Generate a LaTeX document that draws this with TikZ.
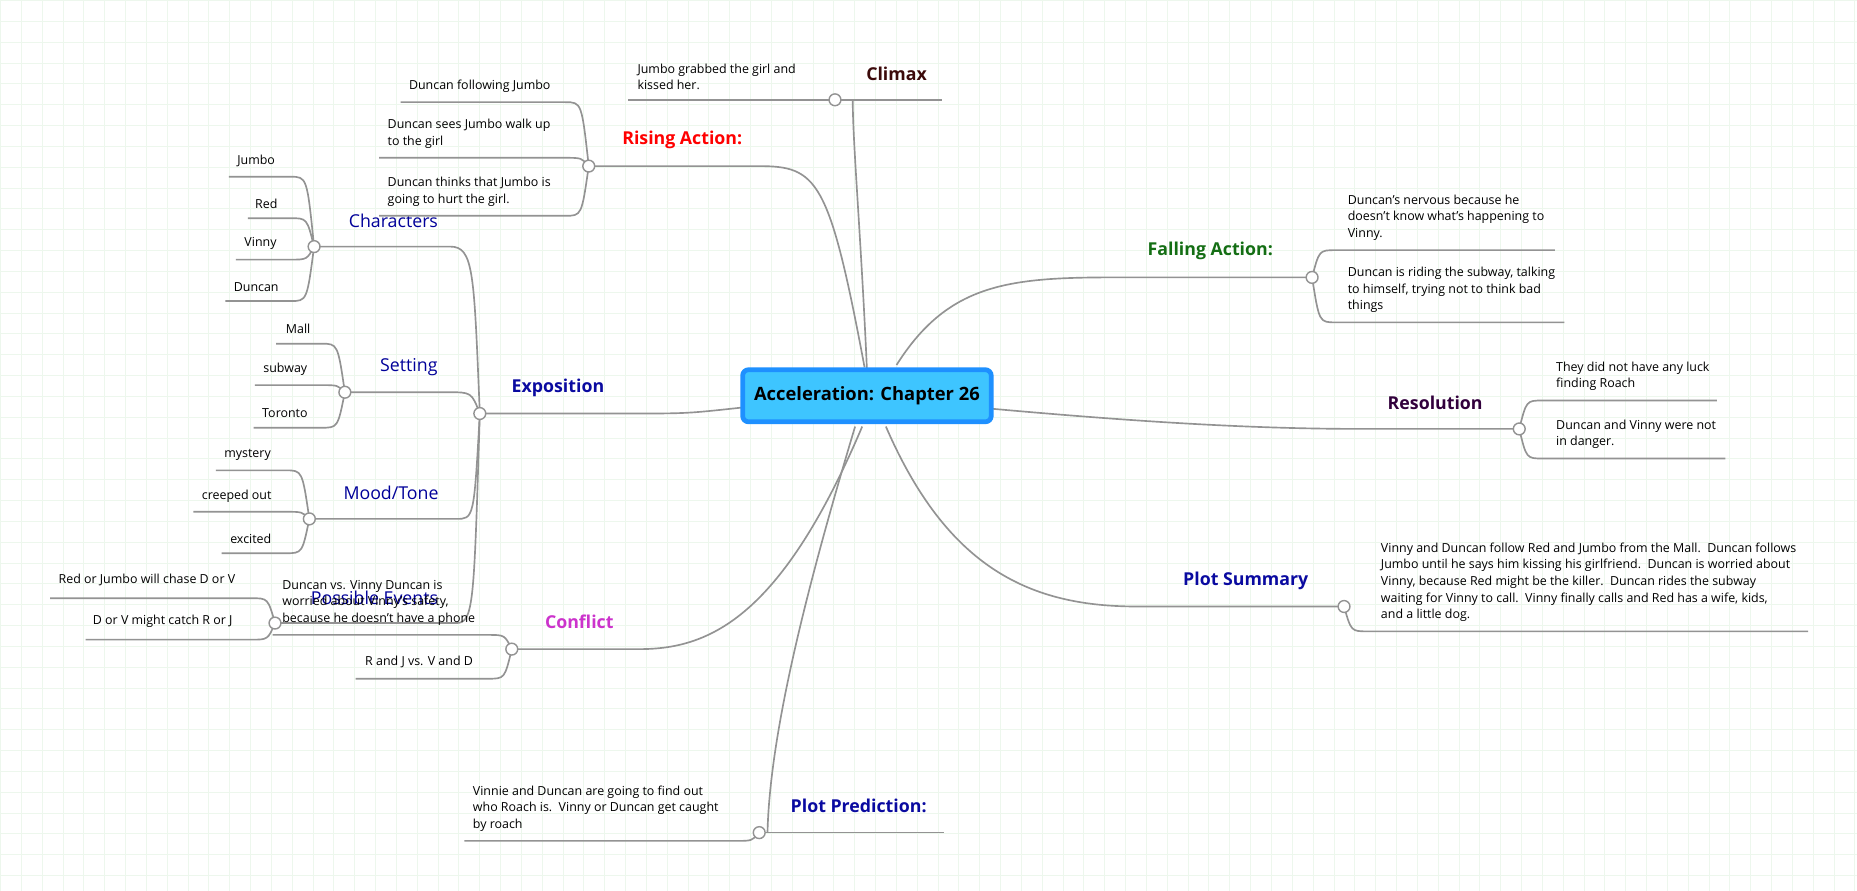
\documentclass[tikz,border=0pt]{standalone}
\usepackage{fontspec}
\setmainfont{Open Sans}
\begin{document}
\begin{tikzpicture}[x=1pt,y=-1pt,
 br/.style={draw=gray!85,line width=1.4pt},
 dot/.style={circle,draw=gray!85,fill=white,line width=1.2pt,minimum size=10pt,inner sep=0pt},
 sm/.style={font=\fontsize{10.5}{14}\selectfont,align=left,anchor=south west,inner sep=0pt},
 hd/.style={font=\fontsize{15}{18}\selectfont\bfseries},
 sh/.style={font=\fontsize{15}{18}\selectfont,text=blue!60!black}]
\fill[white] (0,0) rectangle (1568,752);
\draw[green!40!gray!10,line width=0.6pt,step=17.6pt] (0,0) grid (1568,752);
\useasboundingbox (0,0) rectangle (1568,752);
\newcommand\subL[5]{\coordinate (#5) at (#4,#3);
 \draw[br] (#1,#2) .. controls (#1-6,#3) .. (#1-20,#3) -- (#5);}
\newcommand\subR[5]{\coordinate (#5) at (#4,#3);
 \draw[br] (#1,#2) .. controls (#1+6,#3) .. (#1+20,#3) -- (#5);}
\coordinate (cl) at (705,84); \coordinate (ra) at (497,140);
\coordinate (fa) at (1108,234); \coordinate (rs) at (1283,362);
\coordinate (ps) at (1135,512); \coordinate (pp) at (641,703);
\coordinate (cf) at (432,548); \coordinate (ex) at (405,349);
\coordinate (ch) at (265,208); \coordinate (se) at (291,331);
\coordinate (mo) at (261,438); \coordinate (pe) at (232,526);
\draw[br] (732,312) .. controls (727,200) and (720,120) .. (720,84);
\draw[br] (cl) -- (795,84);
\draw[br] (730,310) .. controls (700,150) and (690,140) .. (640,140) -- (ra);
\draw[br] (757,308) .. controls (800,240) and (850,234) .. (940,234) -- (fa);
\draw[br] (838,345) .. controls (950,355) and (1050,362) .. (1150,362) -- (rs);
\draw[br] (748,360) .. controls (800,480) and (870,512) .. (960,512) -- (ps);
\draw[br] (722,360) .. controls (680,500) and (650,620) .. (648,703);
\draw[br] (pp) -- (797,703);
\draw[br] (728,360) .. controls (660,520) and (600,548) .. (540,548) -- (cf);
\draw[br] (626,344) .. controls (580,349) .. (530,349) -- (ex);
\node[draw={rgb,255:red,30;green,144;blue,255},line width=4pt,fill={rgb,255:red,62;green,197;blue,255},rounded corners=5pt,minimum width=210pt,minimum height=44pt,font=\fontsize{15.5}{18}\selectfont\bfseries] (c) at (732,334) {Acceleration: Chapter 26};
\draw[br] (ex) .. controls (400,230) and (400,208) .. (380,208) -- (ch);
\draw[br] (ex) .. controls (398,331) .. (378,331) -- (se);
\draw[br] (ex) .. controls (400,438) and (400,438) .. (385,438) -- (mo);
\draw[br] (ex) .. controls (400,510) and (400,526) .. (385,526) -- (pe);
\node[hd,text={rgb,255:red,60;green,10;blue,10}] (lcl) at (757,62) {Climax};
\node[hd,text=red] (lra) at (576,118) {Rising Action:};
\node[hd,text={rgb,255:red,20;green,110;blue,20}] (lfa) at (1022,212) {Falling Action:};
\node[hd,text={rgb,255:red,50;green,0;blue,60}] (lrs) at (1212,340) {Resolution};
\node[hd,text={rgb,255:red,10;green,10;blue,160}] (lps) at (1052,490) {Plot Summary};
\node[hd,text={rgb,255:red,10;green,10;blue,160}] (lpp) at (725,680) {Plot Prediction:};
\node[hd,text={rgb,255:red,204;green,51;blue,204}] (lcf) at (489,525) {Conflict};
\node[hd,text={rgb,255:red,10;green,10;blue,160}] (lex) at (471,327) {Exposition};
\node[sh] (lch) at (332,186) {Characters};
\node[sh] (lse) at (345,310) {Setting};
\node[sh] (lmo) at (330,416) {Mood/Tone};
\node[sh] (lpe) at (316,505) {Possible Events};
\draw[br] (cl) -- (530,84); \node[sm] (t1) at (538,76) {Jumbo grabbed the girl and\\kissed her.};
\subL{497}{140}{86}{338}{a1}\node[sm] at (345,78) {Duncan following Jumbo};
\subL{497}{140}{133}{320}{a2}\node[sm] at (327,125) {Duncan sees Jumbo walk up\\to the girl};
\subL{497}{140}{182}{320}{a3}\node[sm] at (327,174) {Duncan thinks that Jumbo is\\going to hurt the girl.};
\subR{1108}{234}{211}{1313}{f1}\node[sm] at (1138,203) {Duncan's nervous because he\\doesn't know what's happening to\\Vinny.};
\subR{1108}{234}{272}{1321}{f2}\node[sm] at (1138,264) {Duncan is riding the subway, talking\\to himself, trying not to think bad\\things};
\subR{1283}{362}{338}{1450}{r1}\node[sm] at (1314,330) {They did not have any luck\\finding Roach};
\subR{1283}{362}{387}{1457}{r2}\node[sm] at (1314,379) {Duncan and Vinny were not\\in danger.};
\subR{1135}{512}{533}{1527}{p1}\node[sm] at (1166,525) {Vinny and Duncan follow Red and Jumbo from the Mall.\ \ Duncan follows\\Jumbo until he says him kissing his girlfriend.\ \ Duncan is worried about\\Vinny, because Red might be the killer.\ \ Duncan rides the subway\\waiting for Vinny to call.\ \ Vinny finally calls and Red has a wife, kids,\\and a little dog.};
\subL{641}{703}{710}{392}{q1}\node[sm] at (399,702) {Vinnie and Duncan are going to find out\\who Roach is.\ \ Vinny or Duncan get caught\\by roach};
\subL{265}{208}{149}{193}{h1}\node[sm] at (200,141) {Jumbo};
\subL{265}{208}{184}{209}{h2}\node[sm] at (215,176) {Red};
\subL{265}{208}{219}{199}{h3}\node[sm] at (206,211) {Vinny};
\subL{265}{208}{254}{190}{h4}\node[sm] at (197,246) {Duncan};
\subL{291}{331}{290}{233}{s1}\node[sm] at (241,282) {Mall};
\subL{291}{331}{325}{215}{s2}\node[sm] at (222,317) {subway};
\subL{291}{331}{361}{214}{s3}\node[sm] at (221,353) {Toronto};
\subL{261}{438}{397}{182}{m1}\node[sm] at (189,389) {mystery};
\subL{261}{438}{432}{163}{m2}\node[sm] at (170,424) {creeped out};
\subL{261}{438}{467}{187}{m3}\node[sm] at (194,459) {excited};
\subL{232}{526}{505}{42}{e1}\node[sm] at (49,495) {Red or Jumbo will chase D or V};
\subL{232}{526}{540}{72}{e2}\node[sm] at (78,530) {D or V might catch R or J};
\subL{432}{548}{536}{230}{k1}\node[sm] at (238,528) {Duncan vs. Vinny Duncan is\\worried about Vinny's safety,\\because he doesn't have a phone};
\subL{432}{548}{573}{300}{k2}\node[sm] at (308,564) {R and J vs. V and D};
\foreach \n in {cl,ra,fa,rs,ps,pp,cf,ex,ch,se,mo,pe} \node[dot] (d\n) at (\n) {};
\end{tikzpicture}
\end{document}
